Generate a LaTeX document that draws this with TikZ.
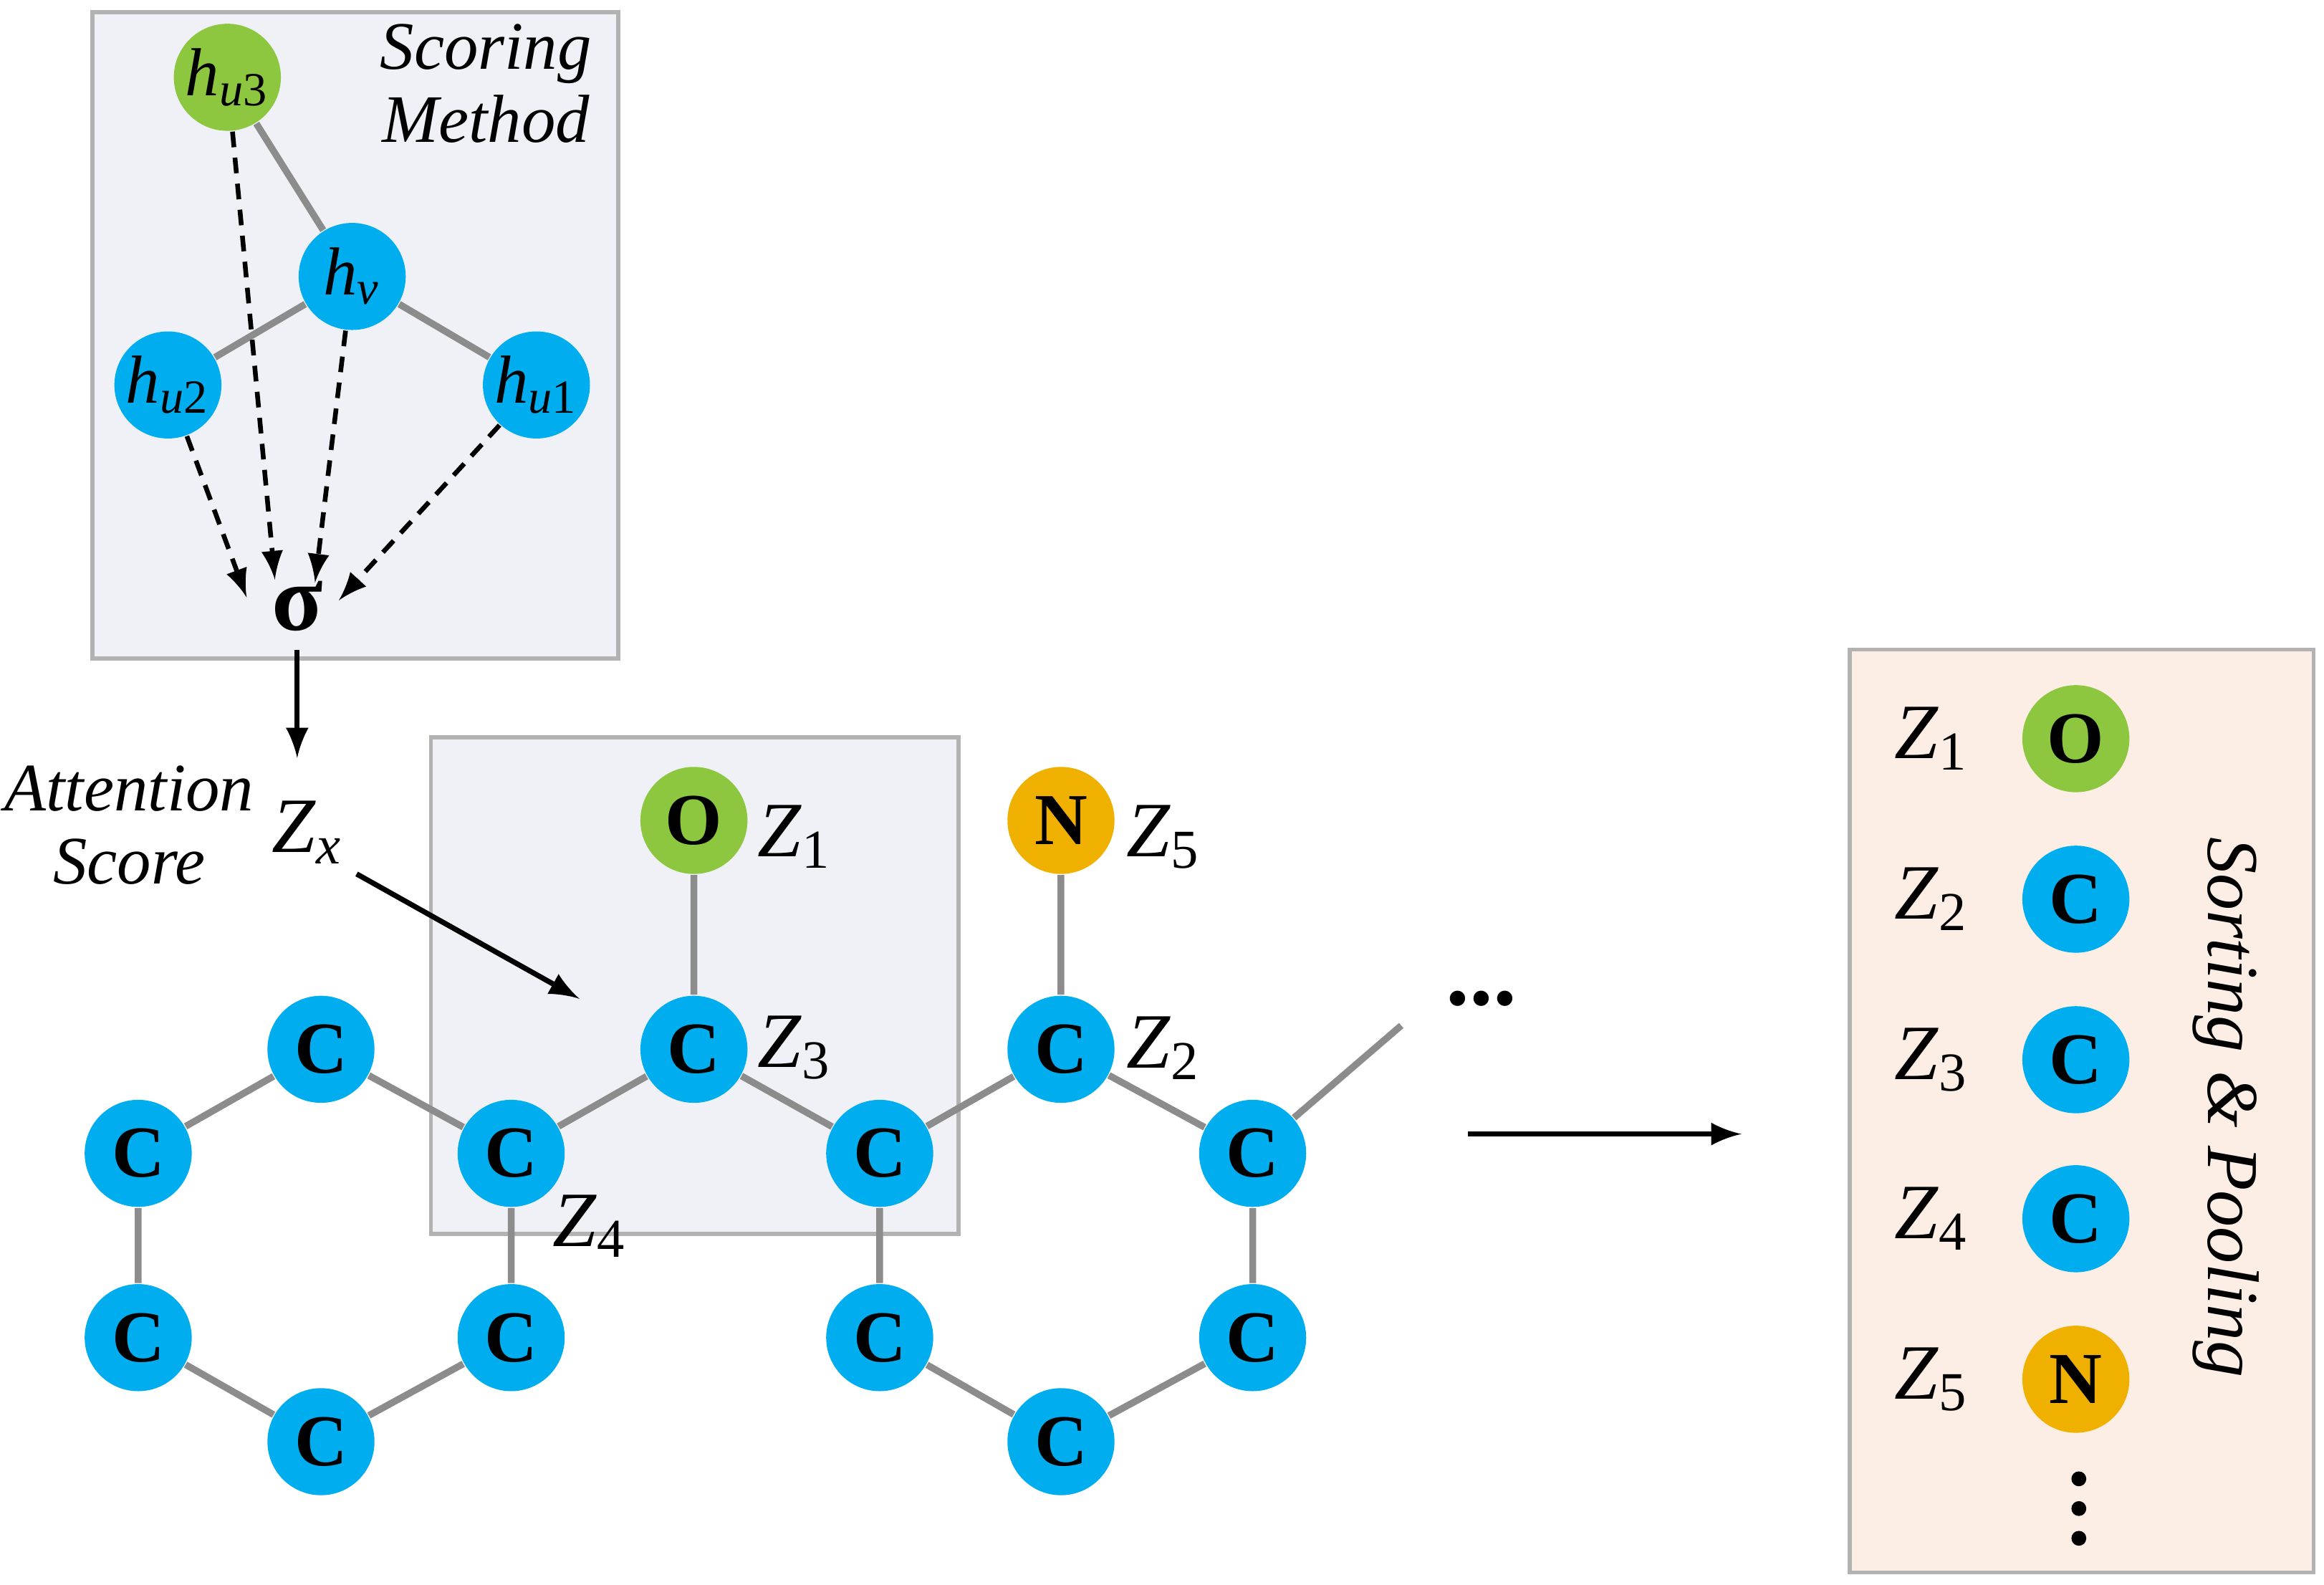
\documentclass[tikz,border=0pt]{standalone}
\usepackage{fontspec}
\setmainfont{Liberation Serif}
\newcommand{\zz}[1]{\textit{Z}\textsubscript{#1}}
\newcommand{\hh}[1]{\textit{h}\textsubscript{#1}}
\begin{document}
\begin{tikzpicture}[x=0.01cm,y=-0.01cm,
 atom/.style={circle,minimum size=0.72cm,inner sep=0pt,font=\fontsize{14}{14}\selectfont\bfseries},
 C/.style={atom,fill=cblue},
 O/.style={atom,fill=cgreen},
 N/.style={atom,fill=corange},
 hl/.style={font=\fontsize{13}{13}\selectfont},
 bond/.style={draw=gray!90,line width=1.3pt},
 dashar/.style={densely dashed,line width=0.9pt,-latex},
 arr/.style={line width=1pt,-latex},
 zl/.style={font=\fontsize{15}{15}\selectfont},
 dot/.style={circle,fill=black,inner sep=0pt,minimum size=0.1cm},
 box/.style={draw=gray!60,line width=0.8pt}]
\definecolor{cblue}{RGB}{0,174,239}
\definecolor{cgreen}{RGB}{141,198,63}
\definecolor{corange}{RGB}{240,176,0}
\definecolor{boxa}{RGB}{240,241,247}
\definecolor{boxb}{RGB}{252,238,228}
\useasboundingbox (0,0) rectangle (1564,1066);
\fill[white] (0,0) rectangle (1564,1066);
\draw[box,fill=boxa] (62,8) rectangle (416,443);
\draw[box,fill=boxa] (290,496) rectangle (645,830);
\draw[box,fill=boxb] (1245,437) rectangle (1557,1058);
% scoring
\node[O,hl] (hu3) at (153,52) {\hh{\textit{u}3}};
\node[C,hl] (hv) at (237,186) {\hh{\textit{v}}};
\node[C,hl] (hu2) at (113,259) {\hh{\textit{u}2}};
\node[C,hl] (hu1) at (361,259) {\hh{\textit{u}1}};
\node[font=\fontsize{18}{18}\selectfont\bfseries] (sg) at (200,408) {σ};
\coordinate (s1) at (185,390); \coordinate (s2) at (212,392);
\coordinate (s3) at (166,402); \coordinate (s4) at (228,404);
\draw[bond] (hu3)--(hv) (hv)--(hu2) (hv)--(hu1);
\draw[dashar] (hu3)--(s1); \draw[dashar] (hv)--(s2);
\draw[dashar] (hu2)--(s3); \draw[dashar] (hu1)--(s4);
\node[font=\fontsize{13}{14}\selectfont\itshape,align=center] (sm) at (327,56) {Scoring\\Method};
\node[font=\fontsize{13}{14}\selectfont\itshape,align=center] (as) at (87,555) {Attention\\Score};
\node[zl] (zx) at (207,560) {\textit{Z}\textsubscript{\textit{x}}};
\coordinate (zxe) at (200,510);
\draw[arr] (sg.south)--(zxe);
\coordinate (za) at (240,588); \coordinate (zb) at (390,672);
\draw[arr] (za)--(zb);
% molecule
\node[O] (o) at (467,552) {O};
\node[N] (n) at (714,552) {N};
\node[C] (c1) at (467,706) {C};
\node[C] (c2) at (714,706) {C};
\node[C] (l1) at (216,706) {C};
\node[C] (l2) at (93,776) {C};
\node[C] (l3) at (93,900) {C};
\node[C] (l4) at (216,970) {C};
\node[C] (l5) at (344,900) {C};
\node[C] (l6) at (344,776) {C};
\node[C] (r1) at (592,776) {C};
\node[C] (r2) at (592,900) {C};
\node[C] (r3) at (714,970) {C};
\node[C] (r4) at (843,900) {C};
\node[C] (r5) at (843,776) {C};
\coordinate (rend) at (943,690);
\draw[bond] (o)--(c1) (n)--(c2) (l6)--(c1) (c1)--(r1) (r1)--(c2)
 (l1)--(l2) (l2)--(l3) (l3)--(l4) (l4)--(l5) (l5)--(l6) (l6)--(l1)
 (r1)--(r2) (r2)--(r3) (r3)--(r4) (r4)--(r5) (r5)--(c2) (r5)--(rend);
\node[zl] (z1) at (535,563) {\zz{1}};
\node[zl] (z5) at (783,563) {\zz{5}};
\node[zl] (z3) at (535,705) {\zz{3}};
\node[zl] (z2) at (783,705) {\zz{2}};
\node[zl] (z4) at (397,825) {\zz{4}};
\node[font=\fontsize{18}{18}\selectfont\bfseries] (dots) at (997,672) {...};
\coordinate (ma) at (988,763); \coordinate (mb) at (1172,763);
\draw[arr] (ma)--(mb);
% right list
\foreach \i/\t/\s/\y in {1/O/O/497,2/C/C/605,3/C/C/713,4/C/C/820,5/N/N/928}{
 \node[zl] (lz\i) at (1300,\y) {\zz{\i}};
 \node[\s] (la\i) at (1397,\y) {\t};
}
\node[dot] (vd1) at (1399,995) {};
\node[dot] (vd2) at (1399,1015) {};
\node[dot] (vd3) at (1399,1035) {};
\node[font=\fontsize{14}{14}\selectfont\itshape,rotate=-90] (sp) at (1498,745) {Sorting \& Pooling};
\end{tikzpicture}
\end{document}
